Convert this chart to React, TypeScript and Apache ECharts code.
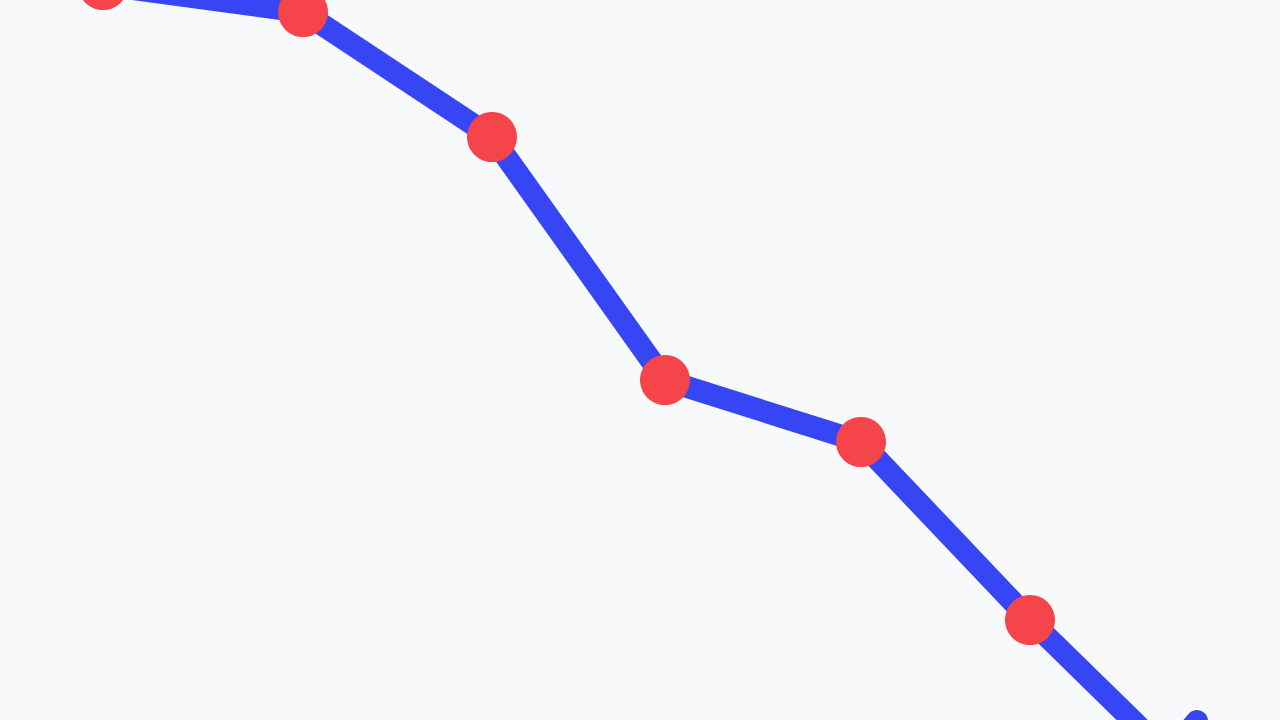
import React, { useEffect, useRef } from 'react';
import * as echarts from 'echarts';

// x and y values of the line (the view is zoomed in, so some fall outside)
const xValues = [10.3, 30.3, 49.2, 66.5, 86.1, 103.0, 116.8, 119.7];
const yValues = [73.5, 70.8, 58.3, 34.0, 27.8, 10.0, -3.5, -0.1];
// the last point is where the line is still being drawn, so it has no marker
const markerShown = [true, true, true, true, true, true, true, false];

const App: React.FC = () => {
  const chartRef = useRef<HTMLDivElement>(null);

  useEffect(() => {
    if (!chartRef.current) return;
    const myChart = echarts.init(chartRef.current, null, { renderer: 'svg' });

    const option = {
      animation: false,
      backgroundColor: '#f8f9fa',
      grid: { left: 0, right: 0, top: 0, bottom: 0 },
      xAxis: { type: 'value', min: 0, max: 128, show: false },
      yAxis: { type: 'value', min: 0, max: 72, show: false },
      series: [
        {
          type: 'line',
          clip: false,
          data: xValues.map((x, i) => ({
            value: [x, yValues[i]],
            symbol: markerShown[i] ? 'circle' : 'none',
          })),
          symbolSize: 50,
          itemStyle: { color: '#f5444a' },
          lineStyle: { color: '#3646f5', width: 22, cap: 'round', join: 'round' },
          z: 2,
        },
      ],
    };

    myChart.setOption(option as any);
    return () => {
      myChart.dispose();
    };
  }, []);

  return (
    <div
      ref={chartRef}
      style={{ position: 'fixed', left: 0, top: 0, width: 1280, height: 720 }}
    />
  );
};

export default App;
